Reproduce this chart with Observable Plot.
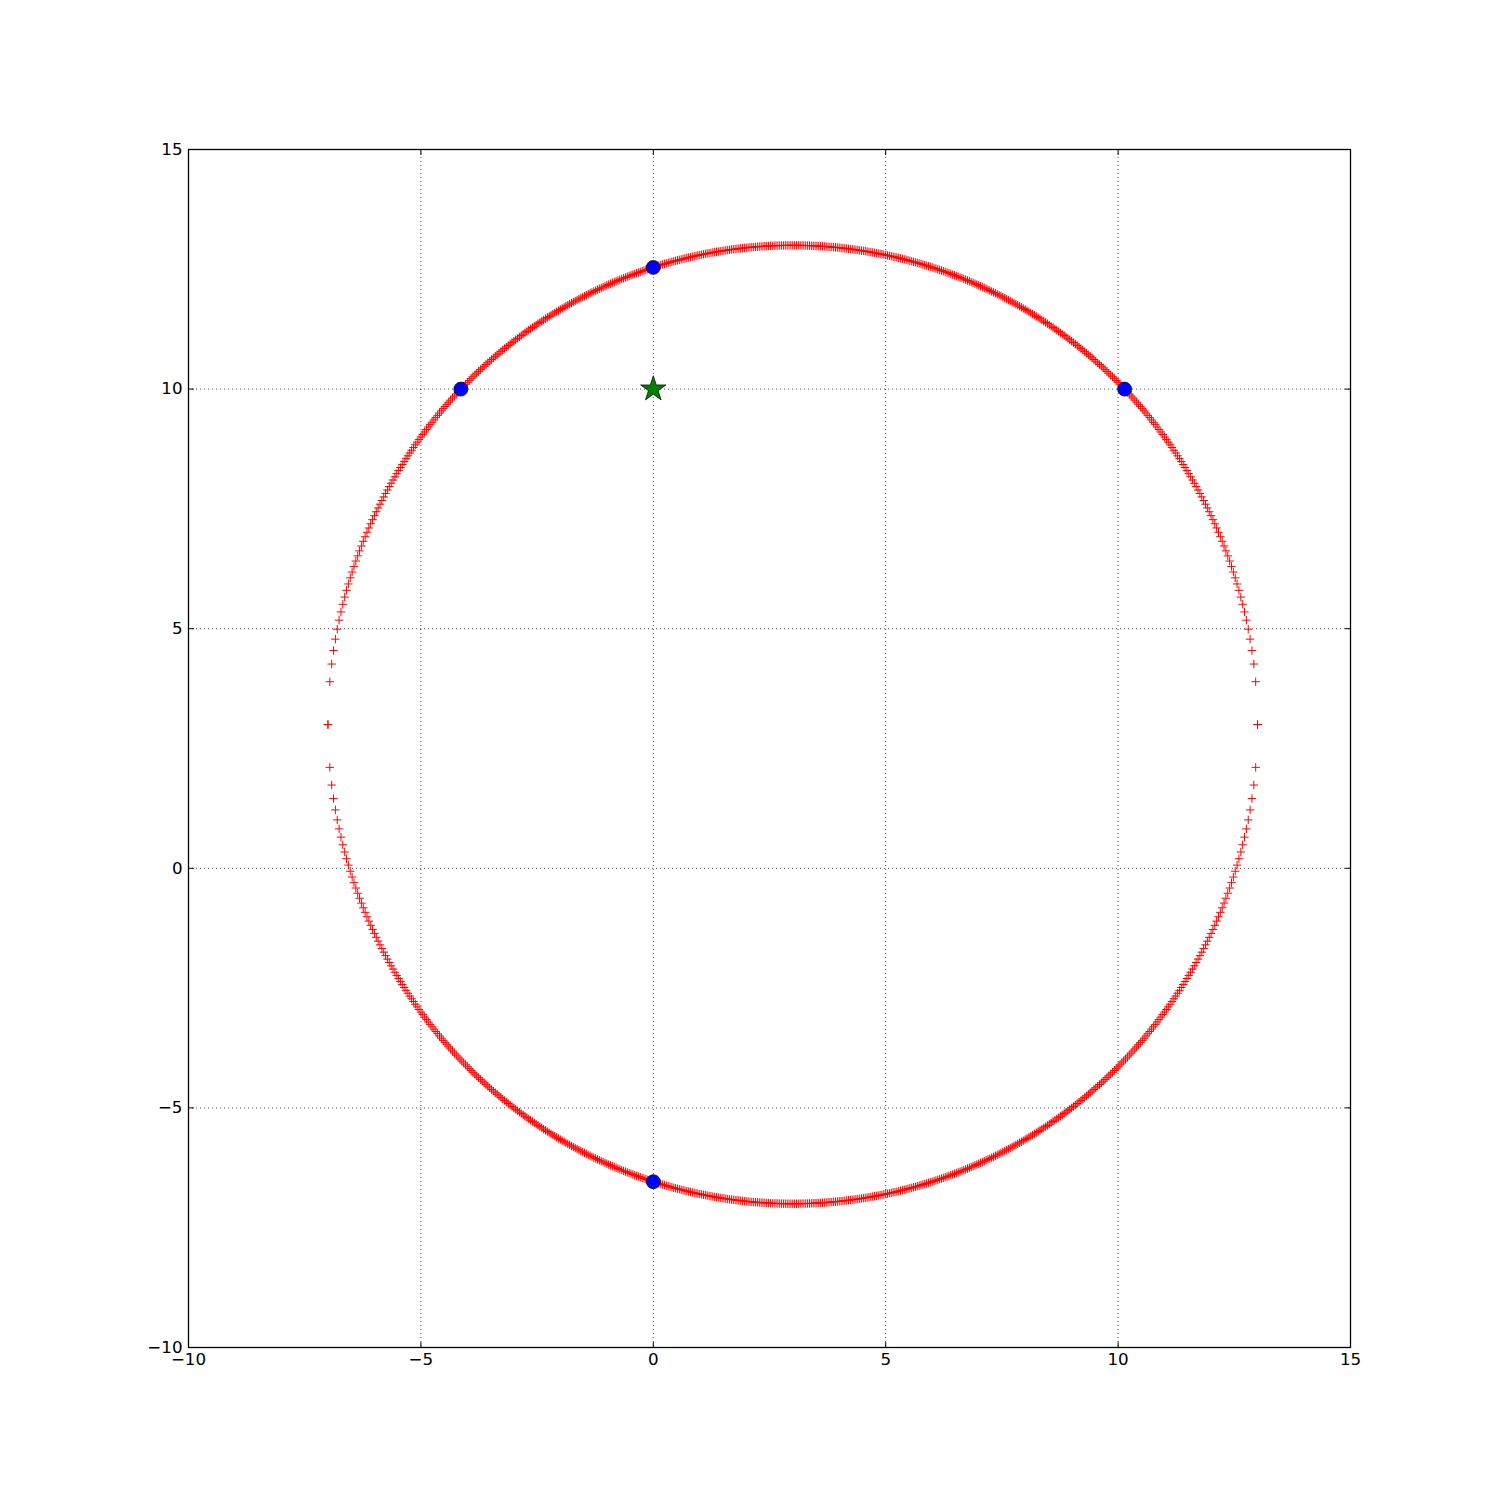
<!DOCTYPE html>
<html>
<head>
<meta charset="utf-8">
<script src="https://cdn.jsdelivr.net/npm/d3@7"></script>
<script src="https://cdn.jsdelivr.net/npm/@observablehq/plot@0.6"></script>
<style>
html, body { margin: 0; padding: 0; background: #fff; }
svg { display: block; }
</style>
</head>
<body>
<div id="chart"></div>
<script>
// ---- data ----
const xTicks = [-10, -5, 0, 5, 10, 15];
const yTicks = [-10, -5, 0, 5, 10, 15];
// circle traced by red "+" markers: centre (3,3), radius 10, sampled uniformly in x
const circleCenterX = 3;
const circleCenterY = 3;
const circleRadius = 10;
const sampleStart = -7;
const sampleStep = 0.04;
const sampleCount = 501;
// blue intersection points
const blueX = [0, -4.14, 10.14, 0];
const blueY = [12.54, 10, 10, -6.54];
// green star
const starX = [0];
const starY = [10];

// ---- build tables ----
const sampleXs = d3.range(sampleCount).map(i => sampleStart + i * sampleStep);
const circlePts = [];
for (const x of sampleXs) {
  const h = Math.sqrt(Math.max(0, circleRadius * circleRadius - (x - circleCenterX) ** 2));
  circlePts.push({x, y: circleCenterY + h});
  circlePts.push({x, y: circleCenterY - h});
}
const bluePts = blueX.map((x, i) => ({x, y: blueY[i]}));
const starPts = starX.map((x, i) => ({x, y: starY[i]}));

const fmt = d => d < 0 ? "\u2212" + Math.abs(d) : String(d);
const plusSymbol = {
  draw(ctx, size) {
    const r = Math.sqrt(size / Math.PI);
    ctx.moveTo(-r, 0); ctx.lineTo(r, 0);
    ctx.moveTo(0, -r); ctx.lineTo(0, r);
  }
};
const tickShape = {
  draw(ctx, l) { ctx.moveTo(0, 0); ctx.lineTo(0, -l); }
};

const chart = Plot.plot({
  width: 1500,
  height: 1497,
  marginLeft: 188,
  marginRight: 150,
  marginTop: 149,
  marginBottom: 150,
  style: { fontFamily: "DejaVu Sans, sans-serif", fontSize: "16.7px", background: "#fff", color: "#000" },
  x: { domain: [-10, 15] },
  y: { domain: [-10, 15] },
  marks: [
    Plot.gridX(xTicks, { stroke: "#000", strokeOpacity: 1, strokeWidth: 0.7, strokeDasharray: "1,3" }),
    Plot.gridY(yTicks, { stroke: "#000", strokeOpacity: 1, strokeWidth: 0.7, strokeDasharray: "1,3" }),
    Plot.vector(xTicks, { x: d => d, frameAnchor: "bottom", length: 5, rotate: 0, anchor: "start", shape: tickShape, stroke: "#000", strokeWidth: 1 }),
    Plot.vector(xTicks, { x: d => d, frameAnchor: "top", length: 5, rotate: 180, anchor: "start", shape: tickShape, stroke: "#000", strokeWidth: 1 }),
    Plot.vector(yTicks, { y: d => d, frameAnchor: "left", length: 5, rotate: 90, anchor: "start", shape: tickShape, stroke: "#000", strokeWidth: 1 }),
    Plot.vector(yTicks, { y: d => d, frameAnchor: "right", length: 5, rotate: -90, anchor: "start", shape: tickShape, stroke: "#000", strokeWidth: 1 }),
    Plot.axisX({ anchor: "bottom", ticks: xTicks, tickSize: 0, tickPadding: 6, tickFormat: fmt, label: null }),
    Plot.axisY({ anchor: "left", ticks: yTicks, tickSize: 0, tickPadding: 6, tickFormat: fmt, label: null }),
    Plot.dot(circlePts, { x: "x", y: "y", r: 4.2, symbol: plusSymbol, fill: "none", stroke: "#ff0000", strokeWidth: 1 }),
    Plot.dot(bluePts, { x: "x", y: "y", r: 7, fill: "#0000ff", stroke: "#000", strokeWidth: 0.7 }),
    Plot.dot(starPts, { x: "x", y: "y", r: 8, symbol: "star", fill: "#008000", stroke: "#000", strokeWidth: 0.7 }),
    Plot.frame({ stroke: "#000", strokeWidth: 1.3 })
  ]
});
document.getElementById("chart").appendChild(chart);
</script>
</body>
</html>
